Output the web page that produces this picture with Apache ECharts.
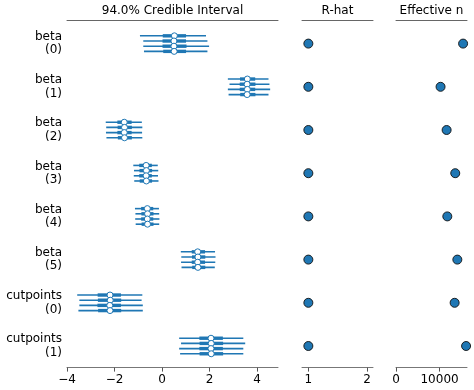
<!DOCTYPE html>
<html><head><meta charset="utf-8">
<script src="https://cdn.jsdelivr.net/npm/echarts@6/dist/echarts.min.js"></script>
<style>html,body{margin:0;padding:0;background:#fff}#c{width:474px;height:390px}</style>
</head><body><div id="c"></div>
<script>
const rowNames = ['beta\n(0)','beta\n(1)','beta\n(2)','beta\n(3)','beta\n(4)','beta\n(5)','cutpoints\n(0)','cutpoints\n(1)'];
// per row: 4 chains
const hdiLow = [
  [-0.93,-0.79,-0.79,-0.76],
  [2.77,2.84,2.77,2.80],
  [-2.37,-2.35,-2.36,-2.34],
  [-1.21,-1.18,-1.19,-1.17],
  [-1.14,-1.12,-1.13,-1.11],
  [0.79,0.81,0.80,0.82],
  [-3.57,-3.48,-3.48,-3.52],
  [0.72,0.80,0.72,0.76]
];
const q25 = [
  [0.03,0.02,0.02,0.05],
  [3.28,3.27,3.27,3.29],
  [-1.88,-1.87,-1.88,-1.86],
  [-0.96,-0.95,-0.96,-0.94],
  [-0.88,-0.87,-0.88,-0.86],
  [1.25,1.26,1.25,1.27],
  [-2.71,-2.70,-2.72,-2.69],
  [1.57,1.58,1.57,1.58]
];
const medians = [
  [0.52,0.50,0.50,0.51],
  [3.59,3.58,3.59,3.58],
  [-1.59,-1.58,-1.59,-1.58],
  [-0.67,-0.66,-0.67,-0.66],
  [-0.62,-0.61,-0.62,-0.61],
  [1.50,1.51,1.50,1.51],
  [-2.19,-2.18,-2.20,-2.19],
  [2.06,2.07,2.06,2.07]
];
const q75 = [
  [1.01,1.01,1.03,1.01],
  [3.92,3.93,3.92,3.93],
  [-1.28,-1.27,-1.28,-1.27],
  [-0.43,-0.42,-0.43,-0.42],
  [-0.37,-0.36,-0.37,-0.36],
  [1.81,1.82,1.81,1.82],
  [-1.73,-1.72,-1.73,-1.72],
  [2.56,2.57,2.56,2.57]
];
const hdiHigh = [
  [1.85,1.91,1.98,1.91],
  [4.48,4.52,4.55,4.48],
  [-0.85,-0.83,-0.84,-0.83],
  [-0.18,-0.16,-0.17,-0.15],
  [-0.13,-0.12,-0.11,-0.12],
  [2.23,2.25,2.24,2.22],
  [-0.83,-0.86,-0.81,-0.81],
  [3.42,3.50,3.42,3.42]
];
const rhat = [1.0,1.0,1.0,1.0,1.0,1.0,1.0,1.0];
const ess = [15400,10230,11620,13600,11780,14080,13460,16090];
const xTicksMain = [-4,-2,0,2,4];
const xTicksRhat = [1,2];
const xTicksEss = [0,10000];

const C = '#1f77b4';
const FONT = 'DejaVu Sans';
const chainStep = 0.12;

const intervalData = [];
for (let r = 0; r < rowNames.length; r++) {
  for (let c = 0; c < 4; c++) {
    intervalData.push([hdiLow[r][c], q25[r][c], medians[r][c], q75[r][c], hdiHigh[r][c], r + (c - 1.5) * chainStep]);
  }
}
const minus = v => String(v).replace('-', '\u2212');

const gridTop = 19.6, gridH = 348;
const grids = [
  {left: 67, top: gridTop, width: 211, height: gridH},
  {left: 302, top: gridTop, width: 71, height: gridH},
  {left: 396, top: gridTop, width: 71, height: gridH}
];
function bottomAxis(gi, min, max, ticks) {
  return {type:'value', gridIndex:gi, position:'bottom', min, max,
    splitLine:{show:false},
    axisLine:{show:true, onZero:false, lineStyle:{color:'#777', width:1}},
    axisTick:{show:true, customValues:ticks, length:4, lineStyle:{color:'#555'}},
    axisLabel:{show:true, customValues:ticks, formatter:minus, color:'#000', fontFamily:FONT, fontSize:12, margin:6}};
}
function topAxis(gi, min, max, name) {
  return {type:'value', gridIndex:gi, position:'top', min, max, offset:2,
    name, nameLocation:'middle', nameGap:3,
    nameTextStyle:{color:'#000', fontFamily:FONT, fontSize:12},
    splitLine:{show:false}, axisTick:{show:false}, axisLabel:{show:false},
    axisLine:{show:true, onZero:false, lineStyle:{color:'#666', width:1}}};
}
const yVal = gi => ({type:'value', gridIndex:gi, position:'left', min:-0.5, max:7.5, inverse:true, show:false,
  axisLine:{onZero:false}});

const option = {
  animation:false,
  backgroundColor:'#fff',
  grid: grids,
  xAxis: [
    bottomAxis(0, -4, 4.88, xTicksMain),
    bottomAxis(1, 0.892, 2.1, xTicksRhat),
    bottomAxis(2, 0, 16300, xTicksEss),
    topAxis(0, -4, 4.88, '94.0% Credible Interval'),
    topAxis(1, 0.892, 2.1, 'R-hat'),
    topAxis(2, 0, 16300, 'Effective n')
  ],
  yAxis: [
    yVal(0),
    {type:'category', gridIndex:0, position:'left', data:rowNames, inverse:true,
      axisLine:{show:false, onZero:false}, axisTick:{show:false}, splitLine:{show:false},
      axisLabel:{color:'#000', fontFamily:FONT, fontSize:12, align:'right', lineHeight:13.5, margin:5}},
    yVal(1),
    yVal(2)
  ],
  series: [
    {type:'custom', xAxisIndex:0, yAxisIndex:0, data:intervalData,
      encode:{x:[0,1,2,3,4], y:5},
      renderItem:function(params, api){
        const y = api.value(5);
        const a = api.coord([api.value(0), y]);
        const b = api.coord([api.value(1), y]);
        const m = api.coord([api.value(2), y]);
        const d = api.coord([api.value(3), y]);
        const e = api.coord([api.value(4), y]);
        return {type:'group', children:[
          {type:'line', shape:{x1:a[0], y1:a[1], x2:e[0], y2:e[1]}, style:{stroke:C, lineWidth:1.6}},
          {type:'line', shape:{x1:b[0], y1:b[1], x2:d[0], y2:d[1]}, style:{stroke:C, lineWidth:3.4}},
          {type:'circle', shape:{cx:m[0], cy:m[1], r:3}, style:{fill:'#fff', stroke:C, lineWidth:1}}
        ]};
      }},
    {type:'scatter', xAxisIndex:1, yAxisIndex:2, symbolSize:9,
      itemStyle:{color:C, borderColor:'#111', borderWidth:0.9, opacity:1},
      data: rhat.map((v,i)=>[v,i])},
    {type:'scatter', xAxisIndex:2, yAxisIndex:3, symbolSize:9,
      itemStyle:{color:C, borderColor:'#111', borderWidth:0.9, opacity:1},
      data: ess.map((v,i)=>[v,i])}
  ]
};
echarts.init(document.getElementById('c'), null, {renderer:'canvas'}).setOption(option);
</script></body></html>
